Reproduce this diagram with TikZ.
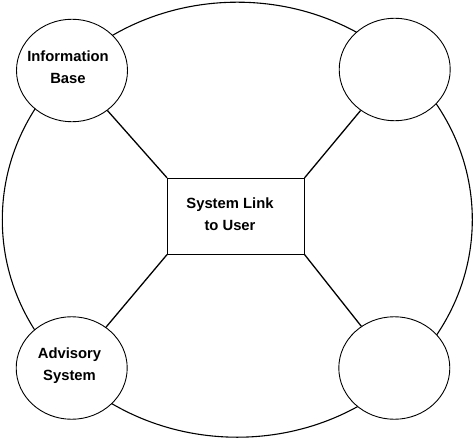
\documentclass[tikz,border=0pt]{standalone}
\usepackage{fontspec}
\setmainfont{Liberation Sans}
\usetikzlibrary{shapes.geometric}
\begin{document}
\begin{tikzpicture}[x=1bp,y=-1bp,
  outer/.style={ellipse,draw,line width=1.1pt,minimum width=470bp,minimum height=435bp,inner sep=0pt},
  circ/.style={ellipse,draw,line width=0.9pt,fill=white,minimum width=111bp,minimum height=102.5bp,inner sep=0pt},
  box/.style={rectangle,draw,line width=1pt,minimum width=136.5bp,minimum height=75.7bp,inner sep=0pt},
  lbl/.style={align=center,inner sep=0pt,font=\fontsize{14.8bp}{21.7bp}\selectfont\bfseries},
  link/.style={line width=1.3pt}]
\fill[white] (0,0) rectangle (474,440);
\useasboundingbox (0,0) rectangle (474,440);
\node[outer] (big) at (237.3,219.7) {};
\node[circ] (ib) at (72,70.5) {};
\node[circ] (tr) at (394.7,69.5) {};
\node[circ] (as) at (71.7,368) {};
\node[circ] (br) at (394.3,368) {};
\node[box] (sl) at (235.8,216.2) {};
\node[lbl] (ibt) at (68,67.5) {Information\\Base};
\node[lbl] (ast) at (69.5,365.5) {Advisory\\System};
\node[lbl] (slt) at (230,214.5) {System Link\\to User};
\draw[link] (ib) -- (sl.north west);
\draw[link] (tr) -- (sl.north east);
\draw[link] (as) -- (sl.south west);
\draw[link] (br) -- (sl.south east);
\end{tikzpicture}
\end{document}
